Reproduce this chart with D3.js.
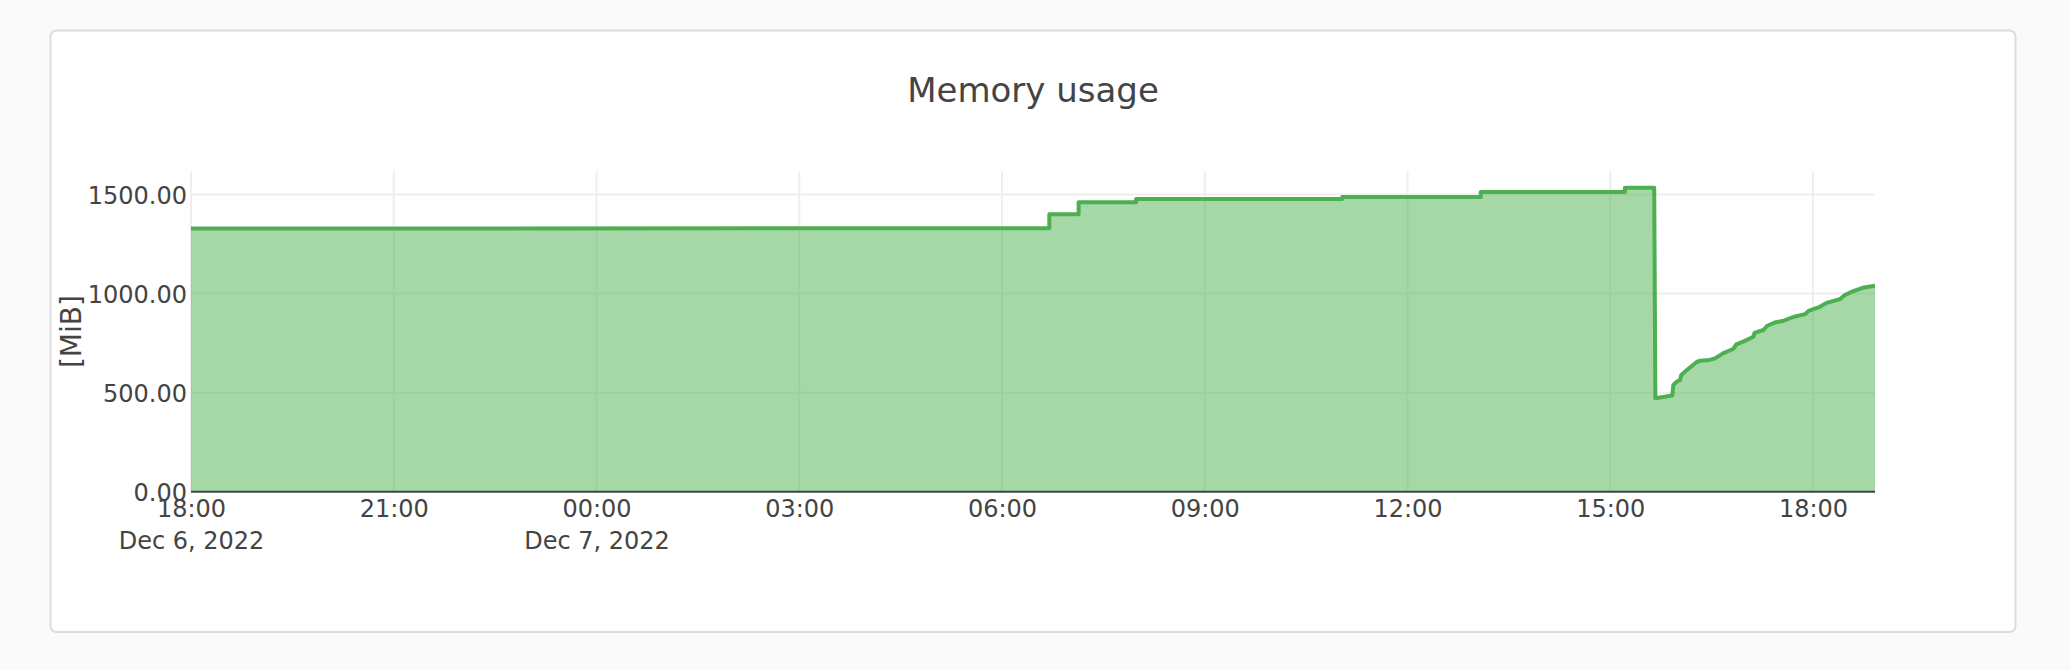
<!DOCTYPE html>
<html>
<head>
<meta charset="utf-8">
<script src="https://cdn.jsdelivr.net/npm/d3@7"></script>
<style>
    html, body { margin: 0; padding: 0; background: #fafafa; }
    svg { display: block; }
</style>
</head>
<body>
<svg id="chart" width="2070" height="670"></svg>
<script>
// samples (local time)
const times = [
    "2022-12-06T18:00", "2022-12-07T06:42", "2022-12-07T06:42", "2022-12-07T07:08",
    "2022-12-07T07:08", "2022-12-07T07:59", "2022-12-07T07:59", "2022-12-07T11:02",
    "2022-12-07T11:02", "2022-12-07T13:05", "2022-12-07T13:05", "2022-12-07T15:13",
    "2022-12-07T15:13", "2022-12-07T15:39", "2022-12-07T15:40", "2022-12-07T15:55",
    "2022-12-07T15:56", "2022-12-07T15:59", "2022-12-07T16:02", "2022-12-07T16:03",
    "2022-12-07T16:08", "2022-12-07T16:17", "2022-12-07T16:20", "2022-12-07T16:28",
    "2022-12-07T16:33", "2022-12-07T16:40", "2022-12-07T16:49", "2022-12-07T16:52",
    "2022-12-07T16:59", "2022-12-07T17:07", "2022-12-07T17:08", "2022-12-07T17:16",
    "2022-12-07T17:19", "2022-12-07T17:26", "2022-12-07T17:34", "2022-12-07T17:43",
    "2022-12-07T17:53", "2022-12-07T17:56", "2022-12-07T18:06", "2022-12-07T18:12",
    "2022-12-07T18:24", "2022-12-07T18:28", "2022-12-07T18:34", "2022-12-07T18:44",
    "2022-12-07T18:55"
];
const memory = [
    1328, 1330, 1400, 1400,
    1461, 1461, 1477, 1477,
    1487, 1487, 1512, 1512,
    1534, 1534, 472, 485,
    539, 555, 564, 589,
    614, 656, 661, 665,
    673, 698, 720, 744,
    760, 782, 802, 816,
    836, 854, 863, 883,
    896, 913, 933, 953,
    972, 992, 1008, 1029,
    1039
];
const yTicks = [0, 500, 1000, 1500];
const xRange = ["2022-12-06T18:00", "2022-12-07T18:55"];
const yMax = 1616;

const parse = d3.timeParse("%Y-%m-%dT%H:%M");
const data = times.map((t, i) => ({ date: parse(t), value: memory[i] }));

const font = "'DejaVu Sans', Verdana, sans-serif";
const textColor = "#444";
const lineColor = "#4caf50";

const plot = { left: 191, right: 1875, top: 171.5, bottom: 491.7 };

const svg = d3.select("#chart");

// card
svg.append("rect")
    .attr("x", 50.5).attr("y", 30.5)
    .attr("width", 1965).attr("height", 601.5)
    .attr("rx", 6)
    .attr("fill", "#fff")
    .attr("stroke", "#dcdcdc")
    .attr("stroke-width", 2);

svg.append("text")
    .attr("x", 1033).attr("y", 102.3)
    .attr("text-anchor", "middle")
    .attr("font-family", font).attr("font-size", 34)
    .attr("fill", textColor)
    .text("Memory usage");

const x = d3.scaleTime()
    .domain(xRange.map(parse))
    .range([plot.left, plot.right]);

const y = d3.scaleLinear()
    .domain([0, yMax])
    .range([plot.bottom, plot.top]);

const xTicks = x.ticks(d3.timeHour.every(3));

// grid
const grid = svg.append("g").attr("stroke", "#eee").attr("stroke-width", 2);
grid.selectAll("line.v")
    .data(xTicks)
    .enter().append("line")
    .attr("x1", d => x(d)).attr("x2", d => x(d))
    .attr("y1", plot.top).attr("y2", plot.bottom);
grid.selectAll("line.h")
    .data(yTicks.filter(d => d > 0))
    .enter().append("line")
    .attr("x1", plot.left).attr("x2", plot.right)
    .attr("y1", d => y(d)).attr("y2", d => y(d));

svg.append("clipPath").attr("id", "clip")
    .append("rect")
    .attr("x", plot.left).attr("y", plot.top - 4)
    .attr("width", plot.right - plot.left).attr("height", plot.bottom - plot.top + 4);

const area = d3.area()
    .x(d => x(d.date))
    .y0(y(0))
    .y1(d => y(d.value));

const line = d3.line()
    .x(d => x(d.date))
    .y(d => y(d.value));

const traces = svg.append("g").attr("clip-path", "url(#clip)");
traces.append("path")
    .datum(data)
    .attr("d", area)
    .attr("fill", lineColor)
    .attr("fill-opacity", 0.5);
traces.append("path")
    .datum(data)
    .attr("d", line)
    .attr("fill", "none")
    .attr("stroke", lineColor)
    .attr("stroke-width", 4)
    .attr("stroke-linejoin", "round");

// zero line
svg.append("line")
    .attr("x1", plot.left).attr("x2", plot.right)
    .attr("y1", y(0)).attr("y2", y(0))
    .attr("stroke", textColor).attr("stroke-width", 2);

// y axis
const yAxis = svg.append("g")
    .attr("transform", "translate(" + plot.left + ",0)")
    .call(d3.axisLeft(y).tickValues(yTicks).tickFormat(d3.format(".2f")).tickSize(0).tickPadding(4));
yAxis.select(".domain").remove();
yAxis.selectAll("text")
    .attr("dy", "0.36em")
    .attr("font-family", font).attr("font-size", 24)
    .attr("fill", textColor);

// x axis, with the date under the first tick and under midnight
const timeFmt = d3.timeFormat("%H:%M");
const dateFmt = d3.timeFormat("%b %-d, %Y");
const xAxis = svg.append("g")
    .attr("transform", "translate(0," + plot.bottom + ")")
    .call(d3.axisBottom(x).tickValues(xTicks).tickFormat(timeFmt).tickSize(0));
xAxis.select(".domain").remove();
xAxis.selectAll(".tick text")
    .attr("y", 25.6).attr("dy", null)
    .attr("font-family", font).attr("font-size", 24)
    .attr("fill", textColor);
xAxis.selectAll(".tick")
    .filter((d, i) => i === 0 || d.getHours() === 0)
    .append("text")
    .attr("y", 57.3)
    .attr("text-anchor", "middle")
    .attr("font-family", font).attr("font-size", 24)
    .attr("fill", textColor)
    .text(d => dateFmt(d));

svg.append("text")
    .attr("transform", "translate(81," + ((plot.top + plot.bottom) / 2) + ") rotate(-90)")
    .attr("text-anchor", "middle")
    .attr("font-family", font).attr("font-size", 28)
    .attr("fill", textColor)
    .text("[MiB]");
</script>
</body>
</html>
